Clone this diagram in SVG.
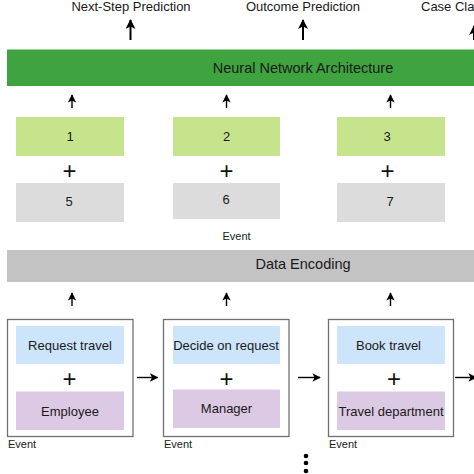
<svg xmlns="http://www.w3.org/2000/svg" width="474" height="474" viewBox="0 0 474 474">
<defs>
<style>
text{font-family:"Liberation Sans",Arial,sans-serif;fill:#1a1a1a}
.t13{font-size:13px}
.lbl{font-size:13px;text-anchor:middle}
.num{font-size:13px;text-anchor:middle}
.plus{font-size:24px;text-anchor:middle;fill:#111}
.ev{font-size:11px}
.frame{fill:#fff;stroke:#707070;stroke-width:1.3}
.green{fill:#c6e48b}
.gray{fill:#dcdcdc}
.blue{fill:#cce5fb}
.purple{fill:#dcc9e4}
.big{stroke:#000;stroke-width:2;fill:none}
.sm{stroke:#000;stroke-width:1.4;fill:none}
</style>
<marker id="ah" viewBox="0 0 10 10" refX="9" refY="5" markerWidth="5.5" markerHeight="5" orient="auto" markerUnits="strokeWidth">
<path d="M0,0 L10,5 L0,10 L2.5,5 z" fill="#000"/>
</marker>
<marker id="ahs" viewBox="0 0 10 10" refX="9" refY="5" markerWidth="6.5" markerHeight="6" orient="auto" markerUnits="strokeWidth">
<path d="M0,0 L10,5 L0,10 L2.5,5 z" fill="#000"/>
</marker>
</defs>
<rect width="474" height="474" fill="#fff"/>

<g id="outputs">
<text class="t13" x="131" y="10.5" text-anchor="middle">Next-Step Prediction</text>
<text class="t13" x="303" y="10.5" text-anchor="middle">Outcome Prediction</text>
<text class="t13" x="421" y="10.5">Case Classification</text>
</g>

<g id="nn">
<rect x="7" y="49.5" width="470" height="36.5" fill="#3fa33f"/>
<text x="303" y="72.5" font-size="14.5" text-anchor="middle">Neural Network Architecture</text>
</g>

<g id="enc1"><rect class="green" x="16" y="117" width="108" height="39"/><text class="num" x="70" y="141">1</text></g>
<g id="enc2"><rect class="green" x="173" y="117" width="107" height="39"/><text class="num" x="226.5" y="141">2</text></g>
<g id="enc3"><rect class="green" x="337" y="117" width="108" height="39"/><text class="num" x="387" y="141">3</text></g>
<g id="plusA">
<text class="plus" x="69.5" y="178.5">+</text>
<text class="plus" x="226.5" y="178.5">+</text>
<text class="plus" x="387.5" y="178.5">+</text>
</g>
<g id="enc5"><rect class="gray" x="16" y="183" width="108" height="39"/><text class="num" x="69" y="206">5</text></g>
<g id="enc6"><rect class="gray" x="173" y="183" width="107" height="36"/><text class="num" x="226" y="203.5">6</text></g>
<g id="enc7"><rect class="gray" x="337" y="183" width="108" height="39"/><text class="num" x="390" y="206">7</text></g>
<g id="evlabel"><text class="ev" x="236.5" y="240" text-anchor="middle">Event</text></g>

<g id="dataenc">
<rect x="7" y="250" width="470" height="32" fill="#c3c3c3"/>
<text x="303" y="268.5" font-size="14.5" text-anchor="middle">Data Encoding</text>
</g>

<g id="event1">
<rect class="frame" x="7.5" y="319.5" width="125.5" height="117"/>
<rect class="blue" x="16" y="326" width="108" height="38"/>
<text class="lbl" x="70" y="349.5">Request travel</text>
<text class="plus" x="69.5" y="387.3">+</text>
<rect class="purple" x="16" y="391.5" width="108" height="38.5"/>
<text class="lbl" x="70" y="415.5">Employee</text>
<text class="ev" x="8" y="447.5">Event</text>
</g>
<g id="event2">
<rect class="frame" x="163.5" y="319.5" width="125.5" height="117"/>
<rect class="blue" x="173" y="326" width="107" height="38"/>
<text class="lbl" x="226" y="349.5">Decide on request</text>
<text class="plus" x="226.5" y="387.3">+</text>
<rect class="purple" x="173" y="389.5" width="107" height="38.5"/>
<text class="lbl" x="226.5" y="413">Manager</text>
<text class="ev" x="164" y="447.5">Event</text>
</g>
<g id="event3">
<rect class="frame" x="328.5" y="319.5" width="125" height="117"/>
<rect class="blue" x="337" y="326" width="108" height="38"/>
<text class="lbl" x="388.5" y="349.5">Book travel</text>
<text class="plus" x="394" y="387.3">+</text>
<rect class="purple" x="337" y="391.5" width="108" height="38.5"/>
<text class="lbl" x="391" y="415.5">Travel department</text>
<text class="ev" x="329" y="447.5">Event</text>
</g>

<g id="dots" fill="#000">
<circle cx="306" cy="456" r="2.3"/>
<circle cx="306" cy="463" r="2.3"/>
<circle cx="306" cy="471" r="2.3"/>
</g>

<g id="connectors">
<line class="big" x1="130.5" y1="40" x2="130.5" y2="20" marker-end="url(#ah)"/>
<line class="big" x1="303" y1="40" x2="303" y2="20" marker-end="url(#ah)"/>
<line class="big" x1="474" y1="40" x2="474" y2="26" marker-end="url(#ah)"/>
<line class="sm" x1="72" y1="108" x2="72" y2="95" marker-end="url(#ahs)"/>
<line class="sm" x1="226.5" y1="108" x2="226.5" y2="95" marker-end="url(#ahs)"/>
<line class="sm" x1="390.5" y1="108" x2="390.5" y2="95" marker-end="url(#ahs)"/>
<line class="sm" x1="72" y1="306" x2="72" y2="293" marker-end="url(#ahs)"/>
<line class="sm" x1="226.5" y1="306" x2="226.5" y2="293" marker-end="url(#ahs)"/>
<line class="sm" x1="390.5" y1="306" x2="390.5" y2="293" marker-end="url(#ahs)"/>
<line class="sm" x1="137" y1="377.5" x2="157.5" y2="377.5" marker-end="url(#ahs)"/>
<line class="sm" x1="298" y1="377.5" x2="320" y2="377.5" marker-end="url(#ahs)"/>
<line class="sm" x1="455" y1="377.5" x2="476" y2="377.5" marker-end="url(#ahs)"/>
</g>
</svg>
